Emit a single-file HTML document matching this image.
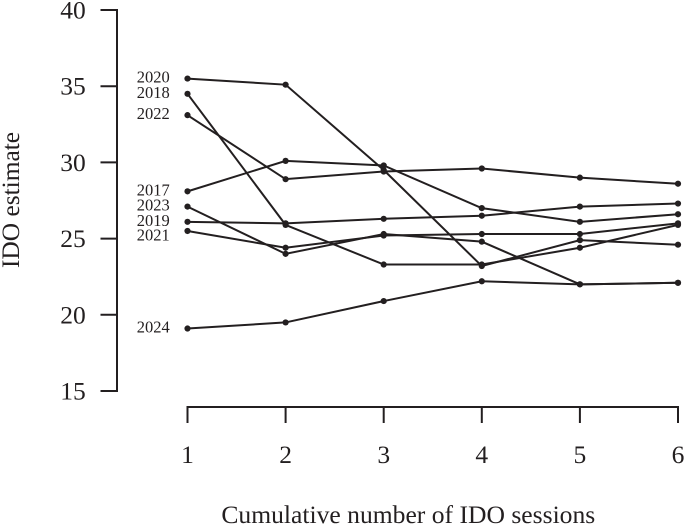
<!DOCTYPE html>
<html>
<head>
<meta charset="utf-8">
<style>
html,body{margin:0;padding:0;background:#fff;}
svg{display:block;font-family:"Liberation Serif",serif;fill:#231f20;}
</style>
</head>
<body>
<svg id="chart" width="685" height="525" viewBox="0 0 685 525" xmlns="http://www.w3.org/2000/svg"></svg>
<script>
const sessions = [1, 2, 3, 4, 5, 6];
const yTicks = [15, 20, 25, 30, 35, 40];
const years = ['2017', '2018', '2019', '2020', '2021', '2022', '2023', '2024'];
const s2017 = [28.1, 30.1, 29.8, 27.0, 26.1, 26.6];
const s2018 = [34.5, 25.9, 23.3, 23.3, 24.4, 25.9];
const s2019 = [26.1, 26.0, 26.3, 26.5, 27.1, 27.3];
const s2020 = [35.5, 35.1, 29.5, 23.2, 24.9, 24.6];
const s2021 = [25.5, 24.4, 25.2, 25.3, 25.3, 26.0];
const s2022 = [33.1, 28.9, 29.4, 29.6, 29.0, 28.6];
const s2023 = [27.1, 24.0, 25.3, 24.8, 22.0, 22.1];
const s2024 = [19.1, 19.5, 20.9, 22.2, 22.0, 22.1];
const allSeries = [s2017, s2018, s2019, s2020, s2021, s2022, s2023, s2024];
const xTitle = 'Cumulative number of IDO sessions';
const yTitle = 'IDO estimate';

const NS = 'http://www.w3.org/2000/svg';
const svg = document.getElementById('chart');
const ink = '#231f20';
function xScale(v) { return 187.5 + (v - 1) * 98.1; }
function yScale(v) { return 10 + (40 - v) * 15.24; }
function make(tag, attrs, parent) {
  const el = document.createElementNS(NS, tag);
  for (const k in attrs) el.setAttribute(k, attrs[k]);
  (parent || svg).appendChild(el);
  return el;
}

const yAxis = make('g', {});


make('line', {x1: 117, x2: 117, y1: yScale(yTicks[0]) + 1, y2: yScale(yTicks[yTicks.length - 1]) - 1, stroke: ink, 'stroke-width': 2}, yAxis);
yTicks.forEach(function (t) {
  const tick = make('line', {x1: 100.5, x2: 117, y1: yScale(t), y2: yScale(t), stroke: ink, 'stroke-width': 2}, yAxis);
  
  
  const lab = make('text', {x: 85.8, y: yScale(t) + 8.5, 'text-anchor': 'end', 'font-size': 25.5}, yAxis);
  
  
  lab.textContent = t;
});

const xAxis = make('g', {});


make('line', {x1: xScale(sessions[0]) - 1, x2: xScale(sessions[sessions.length - 1]) + 1, y1: 407, y2: 407, stroke: ink, 'stroke-width': 2}, xAxis);
sessions.forEach(function (s) {
  const tick = make('line', {x1: xScale(s), x2: xScale(s), y1: 407, y2: 423, stroke: ink, 'stroke-width': 2}, xAxis);
  
  
  const lab = make('text', {x: xScale(s), y: 463, 'text-anchor': 'middle', 'font-size': 25.5}, xAxis);
  
  
  lab.textContent = s;
});

allSeries.forEach(function (vals, i) {
  const g = make('g', {});
  
  
  const pts = vals.map(function (v, j) { return xScale(sessions[j]) + ',' + yScale(v).toFixed(2); }).join(' ');
  make('polyline', {points: pts, fill: 'none', stroke: ink, 'stroke-width': 2}, g);
  vals.forEach(function (v, j) {
    const p = make('circle', {cx: xScale(sessions[j]), cy: yScale(v), r: 3.1, fill: ink}, g);
    
    
  });
  // the 2021 label sits below its first point to clear the 2019 label
  const nudge = years[i] === '2021' ? 5.6 : 0;
  const lab = make('text', {x: 169.7, y: yScale(vals[0]) + 4 + nudge, 'text-anchor': 'end', 'font-size': 16.5}, g);
  
  
  lab.textContent = years[i];
});

const xt = make('text', {x: 408.3, y: 523, 'text-anchor': 'middle', 'font-size': 25.6});


xt.textContent = xTitle;

const yt = make('text', {x: 0, y: 0, 'text-anchor': 'middle', 'font-size': 25.4, transform: 'translate(19,200) rotate(-90)'});


yt.textContent = yTitle;
</script>
</body>
</html>
